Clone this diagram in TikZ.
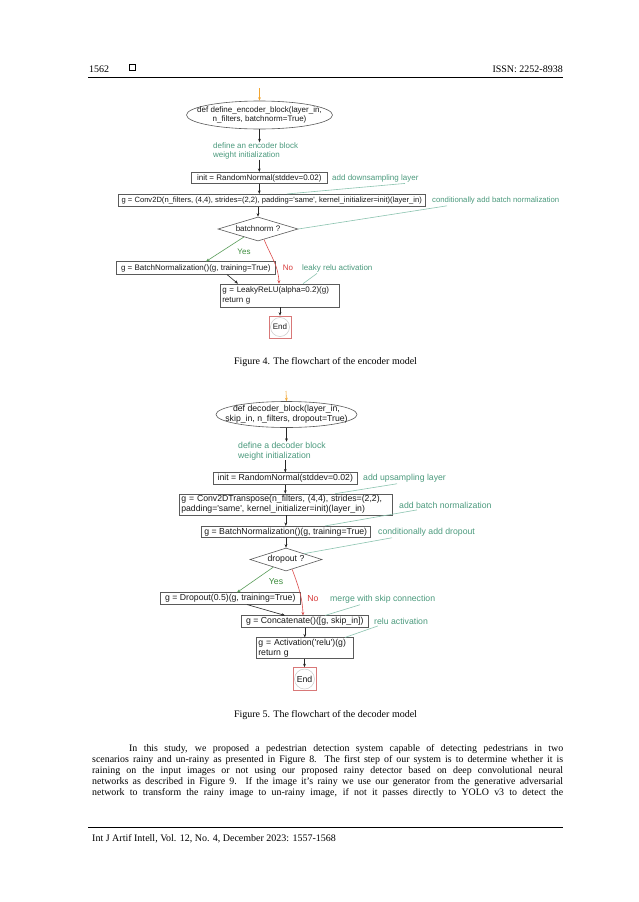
\documentclass[tikz,border=0pt]{standalone}
\usepackage{fontspec}
\setmainfont{Liberation Serif}
\newfontfamily\fcsans{Liberation Sans}
\usetikzlibrary{shapes.geometric,calc,arrows.meta}
\definecolor{cmt}{HTML}{4B9A7D}
\definecolor{cmtline}{HTML}{8CC4B0}
\definecolor{yesg}{HTML}{3C8C3C}
\definecolor{nor}{HTML}{D83A3A}
\definecolor{orng}{HTML}{F2A531}
\definecolor{endr}{HTML}{D87878}
\definecolor{boxd}{HTML}{5A5A5A}
\begin{document}
\begin{tikzpicture}[x=1pt,y=-1pt,
  fc/.style={font=\fcsans\fontsize{8}{9.6}\selectfont},
  box/.style={fc, draw=boxd, line width=0.6pt, inner xsep=2pt, inner ysep=1.2pt, text=black!90, align=left, anchor=west},
  ellbox/.style={ellipse, draw=boxd, line width=0.6pt, inner sep=0pt},
  diabox/.style={diamond, draw=boxd, line width=0.6pt, inner sep=0pt},
  inlabel/.style={label={[fc, text=black!90, align=center, inner sep=0pt]center:#1}},
  endbox/.style={fc, draw=endr, line width=0.6pt, minimum size=22, inner sep=0pt, text=black!90},
  endring/.style={circle, draw=gray!40, line width=0.5pt, minimum size=19, inner sep=0pt},
  cmtnode/.style={fc, text=cmt, align=left, inner sep=0pt, anchor=west},
  cline/.style={draw=cmtline, line width=0.6pt},
  arr/.style={-{Stealth[length=3.5pt,width=2.8pt]}, line width=0.6pt, draw=black!85},
  yesarr/.style={arr, draw=yesg!85},
  noarr/.style={arr, draw=nor!90},
  yeslab/.style={fc, text=yesg, inner sep=0pt},
  nolab/.style={fc, text=nor, inner sep=0pt},
  page/.style={font=\fontsize{10}{11}\selectfont, inner sep=0pt},
]
\useasboundingbox[fill=white] (0,0) rectangle (638,902);

% ---------- header ----------
\node[page, anchor=base west] (pno) at (89,72) {1562};
\draw[line width=0.5pt] (129.5,64.5) rectangle (135,70);
\draw[line width=0.9pt] (130.5,70.6) -- (135.6,70.6) -- (135.6,65.5);
\node[page, anchor=base east] (issn) at (563,72) {ISSN: 2252-8938};
\coordinate (hl) at (88,77.5);
\coordinate (hr) at (563,77.5);
\draw[line width=0.8pt] (hl) -- (hr);

% ---------- encoder ----------
\coordinate (st1) at (259.5,88);
\node[ellbox, minimum width=146, minimum height=28,
  inlabel={def define\_encoder\_block(layer\_in,\\n\_filters, batchnorm=True)}] (ell1) at (259.5,115) {};
\draw[arr, draw=orng] (st1) -- (ell1.north);
\node[cmtnode] (c1) at (213,151) {define an encoder block\\weight initialization};
\node[box, minimum width=136, minimum height=11.5] (init1) at (191,178) {init = RandomNormal(stddev=0.02)};
\draw[arr] (ell1.south) -- (ell1.south |- c1.north);
\draw[arr] (init1.north |- c1.south) -- (init1.north);
\node[cmtnode] (com2) at (332,178) {add downsampling layer};
\node[box, minimum width=307, minimum height=12.5, font=\fcsans\fontsize{7.6}{9}\selectfont] (conv1) at (118,200.5)
  {g = Conv2D(n\_filters, (4,4), strides=(2,2), padding='same', kernel\_initializer=init)(layer\_in)};
\draw[arr] (init1.south) -- (init1.south |- conv1.north);
\draw[cline] ($(com2.south west)+(73,1.5)$) -- ($(conv1.north west)+(169,0)$);
\node[cmtnode, font=\fcsans\fontsize{7.75}{9}\selectfont] (com3) at (432,200.5) {conditionally add batch normalization};
\node[diabox, minimum width=80, minimum height=24, inlabel={batchnorm ?}] (dia1) at (258,229) {};
\draw[arr] (dia1.north |- conv1.south) -- (dia1.north);
\draw[cline] ($(com3.south west)+(15,1.5)$) -- (dia1.east);
\node[box, minimum width=159, minimum height=12.5] (bn1) at (116,268) {g = BatchNormalization()(g, training=True)};
\node[box, text width=115, minimum height=23] (leaky1) at (220,295.5) {g = LeakyReLU(alpha=0.2)(g)\\return g};
\draw[yesarr] ($(dia1.south)!0.35!(dia1.west)$) -- ($(bn1.north west)+(90,0)$);
\node[yeslab] (yes1) at (244,252) {Yes};
\draw[noarr] ($(dia1.south)!0.15!(dia1.east)$) to[out=-68,in=92] ($(leaky1.north west)+(59,0)$);
\node[nolab] (no1) at (288,268) {No};
\node[cmtnode] (com4) at (302,268) {leaky relu activation};
\draw[cline] ($(com4.south west)+(15,1.5)$) -- ($(leaky1.north west)+(83,0)$);
\draw[arr] ($(bn1.south west)+(111,0)$) -- ($(leaky1.north west)+(18,0)$);
\node[endbox] (end1) at (280,327) {End};
\node[endring] (ring1) at (end1.center) {};
\draw[arr] (end1.north |- leaky1.south) -- (end1.north);

\node[page, anchor=base] (cap1) at (325.5,364) {Figure 4. The flowchart of the encoder model};

% ---------- decoder ----------
\begin{scope}[fc/.style={font=\fcsans\fontsize{8.7}{10}\selectfont}]
\coordinate (st2) at (286,391);
\node[ellbox, minimum width=141, minimum height=26,
  inlabel={def decoder\_block(layer\_in,\\skip\_in, n\_filters, dropout=True)}] (ell2) at (286.5,414.5) {};
\draw[arr, draw=orng] (st2) -- (ell2.north);
\node[cmtnode] (c2) at (238,451) {define a decoder block\\weight initialization};
\node[box, minimum width=144, minimum height=11.5] (init2) at (213,478.5) {init = RandomNormal(stddev=0.02)};
\draw[arr] (ell2.south) -- (ell2.south |- c2.north);
\draw[arr] (init2.north |- c2.south) -- (init2.north);
\node[cmtnode] (com5) at (363,478) {add upsampling layer};
\node[box, text width=209, minimum height=21] (tconv) at (179,504.5)
  {g = Conv2DTranspose(n\_filters, (4,4), strides=(2,2),\\padding='same', kernel\_initializer=init)(layer\_in)};
\draw[arr] (init2.south) -- (init2.south |- tconv.north);
\draw[cline] ($(com5.south west)+(34,1.5)$) -- ($(tconv.north west)+(156,0)$);
\node[cmtnode] (com6) at (399,505) {add batch normalization};
\node[box, minimum width=169, minimum height=11.5] (bn2) at (201,532) {g = BatchNormalization()(g, training=True)};
\draw[arr] (bn2.north |- tconv.south) -- (bn2.north);
\draw[cline] ($(com6.south west)+(18,1.5)$) -- ($(bn2.north west)+(124,0)$);
\node[cmtnode] (com7) at (378,532) {conditionally add dropout};
\node[diabox, minimum width=72, minimum height=23, inlabel={dropout ?}] (dia2) at (286,559.5) {};
\draw[arr] (dia2.north |- bn2.south) -- (dia2.north);
\draw[cline] ($(com7.south west)+(14,1.5)$) -- ($(dia2.north)!0.5!(dia2.east)$);
\node[box, minimum width=140, minimum height=11.5] (drop) at (160,598.5) {g = Dropout(0.5)(g, training=True)};
\draw[yesarr] ($(dia2.south)!0.35!(dia2.west)$) -- ($(drop.north west)+(77,0)$);
\node[yeslab] (yes2) at (276,582) {Yes};
\node[box, minimum width=127, minimum height=11.5] (concat) at (241,621.5) {g = Concatenate()([g, skip\_in])};
\draw[noarr] ($(dia2.south)!0.17!(dia2.east)$) to[out=-70,in=92] ($(concat.north west)+(62,0)$);
\node[nolab] (no2) at (313,599) {No};
\node[cmtnode] (com8) at (330,599) {merge with skip connection};
\draw[cline] ($(com8.south west)+(30,1.5)$) -- ($(concat.north west)+(84,0)$);
\draw[arr] ($(drop.south west)+(87,0)$) -- ($(concat.north west)+(44,0)$);
\node[cmtnode] (com9) at (374,621) {relu activation};
\node[box, text width=93, minimum height=20] (act) at (256,648) {g = Activation('relu')(g)\\return g};
\draw[arr] (act.north |- concat.south) -- (act.north);
\draw[cline] ($(com9.south west)+(4,1.5)$) -- ($(act.north west)+(89,0)$);
\node[endbox, minimum size=23] (end2) at (304.5,679) {End};
\node[endring, minimum size=20] (ring2) at (end2.center) {};
\draw[arr] (end2.north |- act.south) -- (end2.north);
\end{scope}

\node[page, anchor=base] (cap2) at (325.5,717) {Figure 5. The flowchart of the decoder model};

% ---------- body text ----------
\node[inner sep=0pt, anchor=north west] (body) at (92,744.5) {\parbox[t]{471pt}{\fontsize{9.9}{10.85}\selectfont\parfillskip=0pt
\hspace*{37pt}In this study, we proposed a pedestrian detection system capable of detecting pedestrians in two\linebreak
scenarios rainy and un-rainy as presented in Figure 8. The first step of our system is to determine whether it is\linebreak
raining on the input images or not using our proposed rainy detector based on deep convolutional neural\linebreak
networks as described in Figure 9. If the image it's rainy we use our generator from the generative adversarial\linebreak
network to transform the rainy image to un-rainy image, if not it passes directly to YOLO v3 to detect the\par}};

% ---------- footer ----------
\coordinate (fl) at (88,827.5);
\coordinate (fr) at (563,827.5);
\draw[line width=0.8pt] (fl) -- (fr);
\node[page, anchor=base west] (foot) at (92,841) {Int J Artif Intell, Vol. 12, No. 4, December 2023: 1557-1568};
\end{tikzpicture}
\end{document}
